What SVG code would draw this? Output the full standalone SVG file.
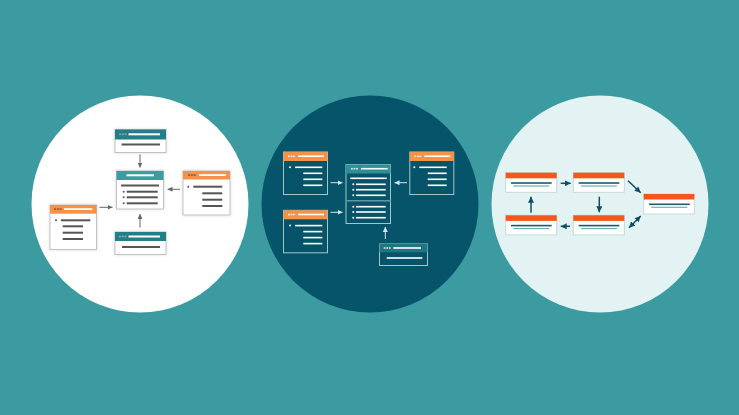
<svg xmlns="http://www.w3.org/2000/svg" width="739" height="415" viewBox="0 0 739 415">
<defs>
<style>
.n1{fill:#fff;stroke:#c2c2c2;stroke-width:1}
.n2{fill:#07546a;stroke:#a3c6cb;stroke-width:1}
.n3{fill:#fff;stroke:#c6d9db;stroke-width:1}
.hT{fill:#237f88}
.hL{fill:#3a9ca2}
.hO{fill:#f79145}
.hR{fill:#f5561b}
.hC{fill:#2f8f96}
.hB{fill:#1f7580}
.g{fill:#555}
.w{fill:#fff}
.dk{fill:#8c5a3a}
.dg{fill:#8aa}
.dw{fill:#fff;opacity:.8}
.l3a{fill:#1f5a6e}
.l3b{fill:#6ab3b8}
.a1{stroke:#666;stroke-width:1;fill:none}
.a2{stroke:#d8e6ea;stroke-width:1;fill:none}
.a3{stroke:#0e4d62;stroke-width:1.5;fill:none}
</style>
<marker id="m1" markerUnits="userSpaceOnUse" markerWidth="5" markerHeight="5" refX="5" refY="2.5" orient="auto"><path d="M0,0 L5,2.5 L0,5 z" fill="#666"/></marker>
<marker id="m2" markerUnits="userSpaceOnUse" markerWidth="5" markerHeight="5" refX="5" refY="2.5" orient="auto"><path d="M0,0 L5,2.5 L0,5 z" fill="#d8e6ea"/></marker>
<marker id="m3" markerUnits="userSpaceOnUse" markerWidth="6" markerHeight="6" refX="6" refY="3" orient="auto-start-reverse"><path d="M0,0 L6,3 L0,6 z" fill="#0e4d62"/></marker>
<filter id="sh" x="-20%" y="-20%" width="140%" height="140%"><feDropShadow dx="0" dy="0" stdDeviation="1.5" flood-color="#000" flood-opacity="0.15"/></filter>
</defs>
<rect x="0" y="0" width="739" height="415" fill="#3b9ba0"/>
<circle cx="140" cy="204" r="108.5" fill="#ffffff"/>
<circle cx="370" cy="204" r="108.5" fill="#05546a"/>
<circle cx="600" cy="204" r="108.5" fill="#e3f2f2"/>

<!-- Panel 1 -->
<g id="p1-top" filter="url(#sh)">
<rect class="n1" x="115" y="129.5" width="51" height="23"/>
<rect class="hT" x="115" y="129.5" width="51" height="10"/>
<rect class="dg" x="119" y="133.5" width="2" height="1.6"/><rect class="dg" x="121.8" y="133.5" width="2" height="1.6"/><rect class="dg" x="124.6" y="133.5" width="2" height="1.6"/>
<rect class="w" x="128.5" y="133.3" width="31.5" height="2"/>
<rect class="g" x="121.5" y="143.5" width="38.5" height="2"/>
</g>
<g id="p1-center" filter="url(#sh)">
<rect class="n1" x="116.5" y="171" width="47" height="38"/>
<rect class="hL" x="116.5" y="171" width="47" height="9"/>
<rect class="w" x="126.5" y="174.3" width="27.5" height="2"/>
<rect class="g" x="121" y="184.5" width="38" height="2"/>
<circle class="g" cx="123.7" cy="191.7" r="1"/><rect class="g" x="126.7" y="190.7" width="31" height="2"/>
<circle class="g" cx="123.7" cy="197.3" r="1"/><rect class="g" x="126.7" y="196.3" width="31" height="2"/>
<circle class="g" cx="123.7" cy="203.3" r="1"/><rect class="g" x="126.7" y="202.3" width="31" height="2"/>
</g>
<g id="p1-right" filter="url(#sh)">
<rect class="n1" x="183" y="171" width="47" height="44"/>
<rect class="hO" x="183" y="171" width="47" height="8.5"/>
<rect class="dk" x="188" y="174.3" width="2" height="1.6"/><rect class="dk" x="190.8" y="174.3" width="2" height="1.6"/><rect class="dk" x="193.6" y="174.3" width="2" height="1.6"/>
<rect class="w" x="199" y="174.2" width="27" height="1.8"/>
<circle class="g" cx="188.3" cy="186.7" r="1"/><rect class="g" x="193.3" y="185.7" width="29" height="2"/>
<rect class="g" x="202.3" y="192.3" width="20" height="2"/>
<rect class="g" x="202.3" y="198.7" width="20" height="2"/>
<rect class="g" x="202.3" y="205" width="20" height="2"/>
</g>
<g id="p1-left" filter="url(#sh)">
<rect class="n1" x="50" y="205" width="46.5" height="44.5"/>
<rect class="hO" x="50" y="205" width="46.5" height="8.7"/>
<rect class="dk" x="54" y="208.3" width="2" height="1.6"/><rect class="dk" x="56.8" y="208.3" width="2" height="1.6"/><rect class="dk" x="59.6" y="208.3" width="2" height="1.6"/>
<rect class="w" x="64" y="208.2" width="28.3" height="1.8"/>
<circle class="g" cx="56" cy="220.3" r="1"/><rect class="g" x="61" y="219.3" width="29.3" height="2"/>
<rect class="g" x="62.7" y="225.3" width="20.3" height="2"/>
<rect class="g" x="62.7" y="231.7" width="20.3" height="2"/>
<rect class="g" x="62.7" y="238" width="20.3" height="2"/>
</g>
<g id="p1-bottom" filter="url(#sh)">
<rect class="n1" x="115" y="232" width="51" height="22.5"/>
<rect class="hT" x="115" y="232" width="51" height="9"/>
<rect class="dg" x="119" y="235.7" width="2" height="1.6"/><rect class="dg" x="121.8" y="235.7" width="2" height="1.6"/><rect class="dg" x="124.6" y="235.7" width="2" height="1.6"/>
<rect class="w" x="128.5" y="235.5" width="31.5" height="2"/>
<rect class="g" x="122" y="246" width="38" height="2"/>
</g>

<!-- Panel 2 -->
<g id="p2-tl">
<rect class="n2" x="283.5" y="152" width="44" height="42.5"/>
<rect class="hO" x="283.5" y="152" width="44" height="9"/>
<rect class="dw" x="288" y="155.5" width="1.8" height="1.6"/><rect class="dw" x="290.6" y="155.5" width="1.8" height="1.6"/><rect class="dw" x="293.2" y="155.5" width="1.8" height="1.6"/>
<rect class="w" x="298" y="155.4" width="26" height="1.6"/>
<circle class="w" cx="290" cy="167.3" r="1"/><rect class="w" x="295" y="166.5" width="27.3" height="1.6"/>
<rect class="w" x="303.3" y="172.5" width="19" height="1.6"/>
<rect class="w" x="303.3" y="178.5" width="19" height="1.6"/>
<rect class="w" x="303.3" y="184.5" width="19" height="1.6"/>
</g>
<g id="p2-bl">
<rect class="n2" x="283.5" y="210.3" width="44" height="42.5"/>
<rect class="hO" x="283.5" y="210.3" width="44" height="9"/>
<rect class="dw" x="288" y="213.8" width="1.8" height="1.6"/><rect class="dw" x="290.6" y="213.8" width="1.8" height="1.6"/><rect class="dw" x="293.2" y="213.8" width="1.8" height="1.6"/>
<rect class="w" x="298" y="213.7" width="26" height="1.6"/>
<circle class="w" cx="290" cy="225.6" r="1"/><rect class="w" x="295" y="224.8" width="27.3" height="1.6"/>
<rect class="w" x="303.3" y="230.8" width="19" height="1.6"/>
<rect class="w" x="303.3" y="236.8" width="19" height="1.6"/>
<rect class="w" x="303.3" y="242.8" width="19" height="1.6"/>
</g>
<g id="p2-tr">
<rect class="n2" x="409.8" y="152" width="44" height="42.5"/>
<rect class="hO" x="409.8" y="152" width="44" height="9"/>
<rect class="dw" x="414.3" y="155.5" width="1.8" height="1.6"/><rect class="dw" x="416.9" y="155.5" width="1.8" height="1.6"/><rect class="dw" x="419.5" y="155.5" width="1.8" height="1.6"/>
<rect class="w" x="424.3" y="155.4" width="26" height="1.6"/>
<circle class="w" cx="414.3" cy="167.3" r="1"/><rect class="w" x="419.3" y="166.5" width="27.4" height="1.6"/>
<rect class="w" x="427.7" y="172.5" width="19" height="1.6"/>
<rect class="w" x="427.7" y="178.5" width="19" height="1.6"/>
<rect class="w" x="427.7" y="184.5" width="19" height="1.6"/>
</g>
<g id="p2-center">
<rect class="n2" x="346" y="164.5" width="44.5" height="59"/>
<rect class="hC" x="346" y="164.5" width="44.5" height="9"/>
<rect class="dw" x="351" y="167.9" width="1.8" height="1.6"/><rect class="dw" x="353.6" y="167.9" width="1.8" height="1.6"/><rect class="dw" x="356.2" y="167.9" width="1.8" height="1.6"/>
<rect class="w" x="361" y="167.9" width="26.7" height="1.6"/>
<rect class="w" x="350.3" y="177.5" width="36.4" height="1.6"/>
<circle class="w" cx="353.3" cy="184.3" r="1"/><rect class="w" x="356" y="183.5" width="29.7" height="1.6"/>
<circle class="w" cx="353.3" cy="189.7" r="1"/><rect class="w" x="356" y="188.9" width="29.7" height="1.6"/>
<circle class="w" cx="353.3" cy="195.3" r="1"/><rect class="w" x="356" y="194.5" width="29.7" height="1.6"/>
<rect x="346" y="200" width="44.5" height="1.5" fill="#5f97a3"/>
<circle class="w" cx="353.3" cy="206.7" r="1"/><rect class="w" x="356" y="205.9" width="29.7" height="1.6"/>
<circle class="w" cx="353.3" cy="212" r="1"/><rect class="w" x="356" y="211.2" width="29.7" height="1.6"/>
<circle class="w" cx="353.3" cy="217.7" r="1"/><rect class="w" x="356" y="216.9" width="29.7" height="1.6"/>
</g>
<g id="p2-bottom">
<rect class="n2" x="379.5" y="244" width="48" height="21.5"/>
<rect class="hB" x="379.5" y="244" width="48" height="8.3"/>
<rect class="dw" x="383.7" y="247.2" width="1.8" height="1.6"/><rect class="dw" x="386.3" y="247.2" width="1.8" height="1.6"/><rect class="dw" x="388.9" y="247.2" width="1.8" height="1.6"/>
<rect class="w" x="393.3" y="247.2" width="27.7" height="1.6"/>
<rect class="w" x="386.7" y="257.2" width="35.6" height="1.6"/>
</g>

<!-- Panel 3 -->
<g id="p3-a">
<rect class="n3" x="505.7" y="172.7" width="51" height="19.6"/>
<rect class="hR" x="505.7" y="172.7" width="51" height="5.6"/>
<rect class="l3a" x="511" y="182.2" width="40.7" height="1.6"/>
<rect class="l3b" x="513.3" y="185.4" width="36" height="1.2"/>
</g>
<g id="p3-b">
<rect class="n3" x="573.3" y="172.7" width="51" height="19.6"/>
<rect class="hR" x="573.3" y="172.7" width="51" height="5.6"/>
<rect class="l3a" x="578.6" y="182.2" width="40.7" height="1.6"/>
<rect class="l3b" x="580.9" y="185.4" width="36" height="1.2"/>
</g>
<g id="p3-c">
<rect class="n3" x="505.7" y="215.3" width="51" height="19.6"/>
<rect class="hR" x="505.7" y="215.3" width="51" height="5.6"/>
<rect class="l3a" x="511" y="224.8" width="40.7" height="1.6"/>
<rect class="l3b" x="513.3" y="228" width="36" height="1.2"/>
</g>
<g id="p3-d">
<rect class="n3" x="573.3" y="215.3" width="51" height="19.6"/>
<rect class="hR" x="573.3" y="215.3" width="51" height="5.6"/>
<rect class="l3a" x="578.6" y="224.8" width="40.7" height="1.6"/>
<rect class="l3b" x="580.9" y="228" width="36" height="1.2"/>
</g>
<g id="p3-e">
<rect class="n3" x="643.7" y="194" width="50.6" height="20"/>
<rect class="hR" x="643.7" y="194" width="50.6" height="5.5"/>
<rect class="l3a" x="649" y="203.5" width="40.7" height="1.6"/>
<rect class="l3b" x="651.3" y="206.7" width="36" height="1.2"/>
</g>

<g id="connectors">
<line class="a1" x1="140" y1="154.5" x2="140" y2="167.5" marker-end="url(#m1)"/>
<line class="a1" x1="180" y1="189.3" x2="167.5" y2="189.3" marker-end="url(#m1)"/>
<line class="a1" x1="99.5" y1="207.3" x2="112.5" y2="207.3" marker-end="url(#m1)"/>
<line class="a1" x1="140" y1="227.5" x2="140" y2="214" marker-end="url(#m1)"/>
<line class="a2" x1="330.5" y1="182.7" x2="342.5" y2="182.7" marker-end="url(#m2)"/>
<line class="a2" x1="330.5" y1="212.3" x2="342.5" y2="212.3" marker-end="url(#m2)"/>
<line class="a2" x1="407" y1="182.7" x2="394.5" y2="182.7" marker-end="url(#m2)"/>
<line class="a2" x1="385.3" y1="239" x2="385.3" y2="227" marker-end="url(#m2)"/>
<line class="a3" x1="560.7" y1="183.3" x2="570.7" y2="183.3" marker-end="url(#m3)"/>
<line class="a3" x1="599.3" y1="196.7" x2="599.3" y2="212.3" marker-end="url(#m3)"/>
<line class="a3" x1="570" y1="226.3" x2="560.7" y2="226.3" marker-end="url(#m3)"/>
<line class="a3" x1="531" y1="212.7" x2="531" y2="196.7" marker-end="url(#m3)"/>
<line class="a3" x1="628" y1="180.7" x2="640.7" y2="192.7" marker-end="url(#m3)"/>
<line class="a3" x1="629" y1="227.7" x2="640.7" y2="216" marker-start="url(#m3)" marker-end="url(#m3)"/>
</g>
</svg>
